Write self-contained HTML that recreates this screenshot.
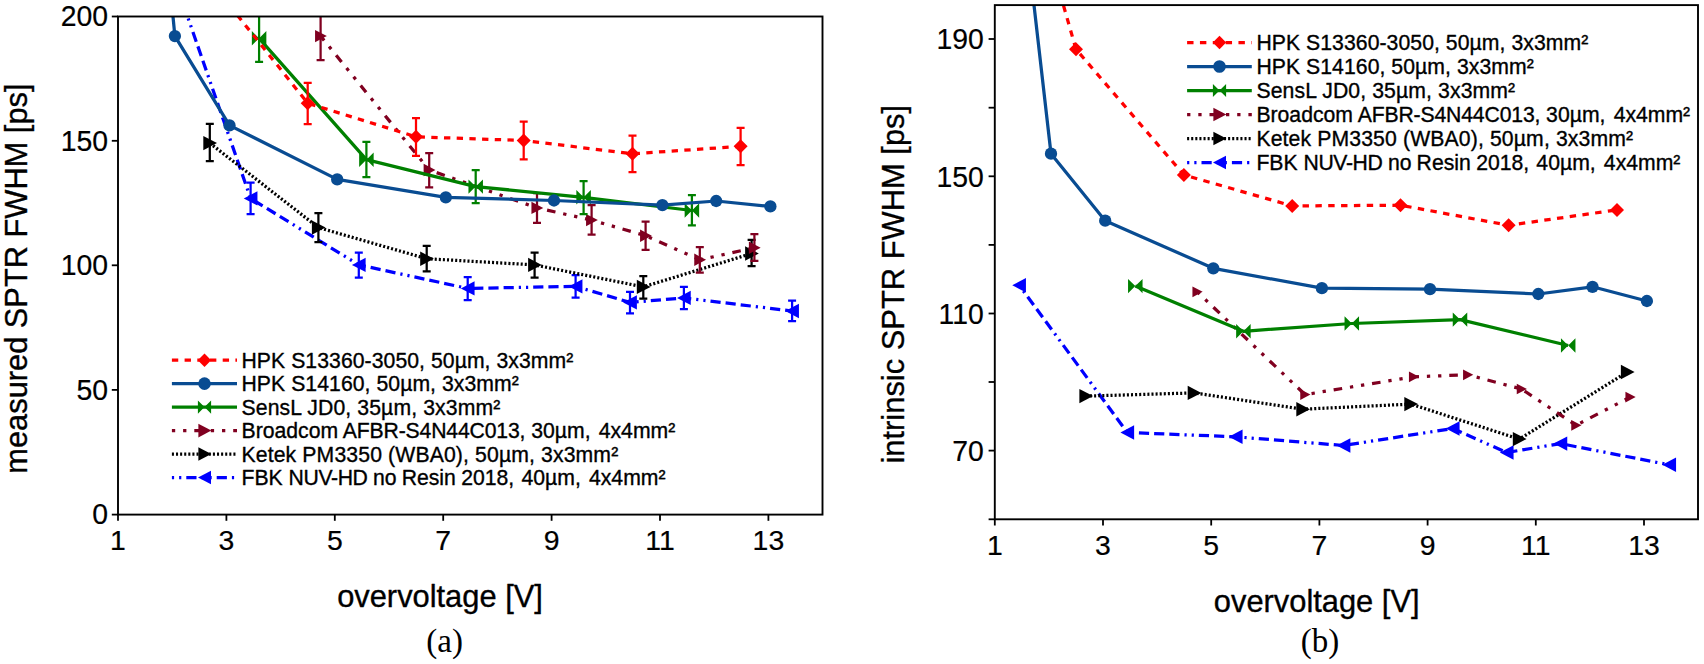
<!DOCTYPE html>
<html lang="en"><head><meta charset="utf-8"><title>SPTR FWHM vs overvoltage</title>
<style>html,body{margin:0;padding:0;background:#fff}svg{display:block}</style></head>
<body>
<svg width="1704" height="664" viewBox="0 0 1704 664">
<rect width="1704" height="664" fill="#fff"/>
<clipPath id="ca"><rect x="118" y="16.5" width="704.5" height="498.1"/></clipPath>
<g clip-path="url(#ca)"><path d="M250.6 182.6V214.1" stroke="#0000ff" stroke-width="2.25" fill="none"/><path d="M358.8 252.5V277.5" stroke="#0000ff" stroke-width="2.25" fill="none"/><path d="M467.7 277.2V300.1" stroke="#0000ff" stroke-width="2.25" fill="none"/><path d="M575.6 275V297.7" stroke="#0000ff" stroke-width="2.25" fill="none"/><path d="M630 291.8V313.3" stroke="#0000ff" stroke-width="2.25" fill="none"/><path d="M683.9 286.9V309" stroke="#0000ff" stroke-width="2.25" fill="none"/><path d="M792.1 300.6V321.1" stroke="#0000ff" stroke-width="2.25" fill="none"/><path d="M142 -114.8L250.6 198.4L358.8 264.9L467.7 288.4L575.6 286.4L630 302.4L683.9 297.9L792.1 311" stroke="#0000ff" stroke-width="3.25" fill="none" stroke-linejoin="round" stroke-dasharray="2.2 5 2.2 5 10.2 5 10.2 5 10.2 5" stroke-dashoffset="39"/></g>
<path d="M257.45 191.21L243.75 198.4L257.45 205.59Z" fill="#0000ff"/>
<path d="M365.65 257.71L351.95 264.9L365.65 272.09Z" fill="#0000ff"/>
<path d="M474.55 281.21L460.85 288.4L474.55 295.59Z" fill="#0000ff"/>
<path d="M582.45 279.21L568.75 286.4L582.45 293.59Z" fill="#0000ff"/>
<path d="M636.85 295.21L623.15 302.4L636.85 309.59Z" fill="#0000ff"/>
<path d="M690.75 290.71L677.05 297.9L690.75 305.09Z" fill="#0000ff"/>
<path d="M798.95 303.81L785.25 311L798.95 318.19Z" fill="#0000ff"/>
<g clip-path="url(#ca)"><path d="M246.6 182.6H254.6M246.6 214.1H254.6" stroke="#0000ff" stroke-width="2.25" fill="none"/><path d="M354.8 252.5H362.8M354.8 277.5H362.8" stroke="#0000ff" stroke-width="2.25" fill="none"/><path d="M463.7 277.2H471.7M463.7 300.1H471.7" stroke="#0000ff" stroke-width="2.25" fill="none"/><path d="M571.6 275H579.6M571.6 297.7H579.6" stroke="#0000ff" stroke-width="2.25" fill="none"/><path d="M626 291.8H634M626 313.3H634" stroke="#0000ff" stroke-width="2.25" fill="none"/><path d="M679.9 286.9H687.9M679.9 309H687.9" stroke="#0000ff" stroke-width="2.25" fill="none"/><path d="M788.1 300.6H796.1M788.1 321.1H796.1" stroke="#0000ff" stroke-width="2.25" fill="none"/></g>
<g clip-path="url(#ca)"><path d="M209.8 123.9V161.2" stroke="#000000" stroke-width="2.25" fill="none"/><path d="M318.4 213V242.1" stroke="#000000" stroke-width="2.25" fill="none"/><path d="M426.7 245.9V271.3" stroke="#000000" stroke-width="2.25" fill="none"/><path d="M534.6 252.5V277.5" stroke="#000000" stroke-width="2.25" fill="none"/><path d="M643.3 276V298.7" stroke="#000000" stroke-width="2.25" fill="none"/><path d="M751.6 239.8V266.1" stroke="#000000" stroke-width="2.25" fill="none"/><path d="M209.8 143.1L318.4 227.6L426.7 258.7L534.6 264.9L643.3 286.9L751.6 253.5" stroke="#000000" stroke-width="3.25" fill="none" stroke-linejoin="round" stroke-dasharray="2.05 2.05" stroke-dashoffset="0"/></g>
<path d="M203.3 135.91L217 143.1L203.3 150.29Z" fill="#000000"/>
<path d="M311.9 220.41L325.6 227.6L311.9 234.79Z" fill="#000000"/>
<path d="M420.2 251.51L433.9 258.7L420.2 265.89Z" fill="#000000"/>
<path d="M528.1 257.71L541.8 264.9L528.1 272.09Z" fill="#000000"/>
<path d="M636.8 279.71L650.5 286.9L636.8 294.09Z" fill="#000000"/>
<path d="M745.1 246.31L758.8 253.5L745.1 260.69Z" fill="#000000"/>
<g clip-path="url(#ca)"><path d="M205.8 123.9H213.8M205.8 161.2H213.8" stroke="#000000" stroke-width="2.25" fill="none"/><path d="M314.4 213H322.4M314.4 242.1H322.4" stroke="#000000" stroke-width="2.25" fill="none"/><path d="M422.7 245.9H430.7M422.7 271.3H430.7" stroke="#000000" stroke-width="2.25" fill="none"/><path d="M530.6 252.5H538.6M530.6 277.5H538.6" stroke="#000000" stroke-width="2.25" fill="none"/><path d="M639.3 276H647.3M639.3 298.7H647.3" stroke="#000000" stroke-width="2.25" fill="none"/><path d="M747.6 239.8H755.6M747.6 266.1H755.6" stroke="#000000" stroke-width="2.25" fill="none"/></g>
<g clip-path="url(#ca)"><path d="M320.6 12V60.2" stroke="#800020" stroke-width="2.25" fill="none"/><path d="M429.2 153.1V187.3" stroke="#800020" stroke-width="2.25" fill="none"/><path d="M537 193V222.9" stroke="#800020" stroke-width="2.25" fill="none"/><path d="M591.6 205V234.6" stroke="#800020" stroke-width="2.25" fill="none"/><path d="M645.6 221.7V249.8" stroke="#800020" stroke-width="2.25" fill="none"/><path d="M699.8 247.2V272.5" stroke="#800020" stroke-width="2.25" fill="none"/><path d="M754.4 234.1V260.9" stroke="#800020" stroke-width="2.25" fill="none"/><path d="M320.6 36.1L429.2 170L537 207.9L591.6 220.1L645.6 235.7L699.8 259.8L754.4 247.7" stroke="#800020" stroke-width="3.25" fill="none" stroke-linejoin="round" stroke-dasharray="3.3 7.9 3.3 7.9 8.6 7.9" stroke-dashoffset="-2.3"/></g>
<path d="M315.05 29.91L326.85 36.1L315.05 42.3Z" fill="#800020"/>
<path d="M423.65 163.81L435.45 170L423.65 176.19Z" fill="#800020"/>
<path d="M531.45 201.71L543.25 207.9L531.45 214.09Z" fill="#800020"/>
<path d="M586.05 213.91L597.85 220.1L586.05 226.29Z" fill="#800020"/>
<path d="M640.05 229.5L651.85 235.7L640.05 241.89Z" fill="#800020"/>
<path d="M694.25 253.61L706.05 259.8L694.25 266Z" fill="#800020"/>
<path d="M748.85 241.5L760.65 247.7L748.85 253.89Z" fill="#800020"/>
<g clip-path="url(#ca)"><path d="M316.6 12H324.6M316.6 60.2H324.6" stroke="#800020" stroke-width="2.25" fill="none"/><path d="M425.2 153.1H433.2M425.2 187.3H433.2" stroke="#800020" stroke-width="2.25" fill="none"/><path d="M533 193H541M533 222.9H541" stroke="#800020" stroke-width="2.25" fill="none"/><path d="M587.6 205H595.6M587.6 234.6H595.6" stroke="#800020" stroke-width="2.25" fill="none"/><path d="M641.6 221.7H649.6M641.6 249.8H649.6" stroke="#800020" stroke-width="2.25" fill="none"/><path d="M695.8 247.2H703.8M695.8 272.5H703.8" stroke="#800020" stroke-width="2.25" fill="none"/><path d="M750.4 234.1H758.4M750.4 260.9H758.4" stroke="#800020" stroke-width="2.25" fill="none"/></g>
<g clip-path="url(#ca)"><path d="M259.1 15.4V61.8" stroke="#008000" stroke-width="2.25" fill="none"/><path d="M366.4 141.8V177.2" stroke="#008000" stroke-width="2.25" fill="none"/><path d="M475.7 170V203" stroke="#008000" stroke-width="2.25" fill="none"/><path d="M583.6 181V214" stroke="#008000" stroke-width="2.25" fill="none"/><path d="M691.9 195V225.4" stroke="#008000" stroke-width="2.25" fill="none"/><path d="M259.1 38.3L366.4 159.7L475.7 186.6L583.6 197.3L691.9 210.5" stroke="#008000" stroke-width="3.25" fill="none" stroke-linejoin="round"/></g>
<path d="M251.85 31.12L259.1 38.3L251.85 45.48ZM266.35 31.12L259.1 38.3L266.35 45.48Z" fill="#008000"/>
<path d="M359.15 152.52L366.4 159.7L359.15 166.88ZM373.65 152.52L366.4 159.7L373.65 166.88Z" fill="#008000"/>
<path d="M468.45 179.42L475.7 186.6L468.45 193.78ZM482.95 179.42L475.7 186.6L482.95 193.78Z" fill="#008000"/>
<path d="M576.35 190.12L583.6 197.3L576.35 204.48ZM590.85 190.12L583.6 197.3L590.85 204.48Z" fill="#008000"/>
<path d="M684.65 203.32L691.9 210.5L684.65 217.68ZM699.15 203.32L691.9 210.5L699.15 217.68Z" fill="#008000"/>
<g clip-path="url(#ca)"><path d="M255.1 15.4H263.1M255.1 61.8H263.1" stroke="#008000" stroke-width="2.25" fill="none"/><path d="M362.4 141.8H370.4M362.4 177.2H370.4" stroke="#008000" stroke-width="2.25" fill="none"/><path d="M471.7 170H479.7M471.7 203H479.7" stroke="#008000" stroke-width="2.25" fill="none"/><path d="M579.6 181H587.6M579.6 214H587.6" stroke="#008000" stroke-width="2.25" fill="none"/><path d="M687.9 195H695.9M687.9 225.4H695.9" stroke="#008000" stroke-width="2.25" fill="none"/></g>
<g clip-path="url(#ca)"><path d="M170 -14L174.9 36.1L229.5 125.4L337.2 179.4L445.8 197.3L554 200.5L662.4 205.1L716.2 201L770.4 206.4" stroke="#094c92" stroke-width="3.25" fill="none" stroke-linejoin="round"/></g>
<circle cx="174.9" cy="36.1" r="6.15" fill="#094c92"/>
<circle cx="229.5" cy="125.4" r="6.15" fill="#094c92"/>
<circle cx="337.2" cy="179.4" r="6.15" fill="#094c92"/>
<circle cx="445.8" cy="197.3" r="6.15" fill="#094c92"/>
<circle cx="554" cy="200.5" r="6.15" fill="#094c92"/>
<circle cx="662.4" cy="205.1" r="6.15" fill="#094c92"/>
<circle cx="716.2" cy="201" r="6.15" fill="#094c92"/>
<circle cx="770.4" cy="206.4" r="6.15" fill="#094c92"/>
<g clip-path="url(#ca)"><path d="M307.7 82.8V124" stroke="#ff0000" stroke-width="2.25" fill="none"/><path d="M416 118.2V155.9" stroke="#ff0000" stroke-width="2.25" fill="none"/><path d="M523.7 121.6V159.3" stroke="#ff0000" stroke-width="2.25" fill="none"/><path d="M632.5 135.7V172.2" stroke="#ff0000" stroke-width="2.25" fill="none"/><path d="M740.6 127.9V165" stroke="#ff0000" stroke-width="2.25" fill="none"/><path d="M199 -32.8L307.7 103.2L416 136.8L523.7 140.5L632.5 153.8L740.6 146.3" stroke="#ff0000" stroke-width="3.25" fill="none" stroke-linejoin="round" stroke-dasharray="6.35 6.35" stroke-dashoffset="2"/></g>
<path d="M300.7 103.2L307.7 96.2L314.7 103.2L307.7 110.2Z" fill="#ff0000"/>
<path d="M409 136.8L416 129.8L423 136.8L416 143.8Z" fill="#ff0000"/>
<path d="M516.7 140.5L523.7 133.5L530.7 140.5L523.7 147.5Z" fill="#ff0000"/>
<path d="M625.5 153.8L632.5 146.8L639.5 153.8L632.5 160.8Z" fill="#ff0000"/>
<path d="M733.6 146.3L740.6 139.3L747.6 146.3L740.6 153.3Z" fill="#ff0000"/>
<g clip-path="url(#ca)"><path d="M303.7 82.8H311.7M303.7 124H311.7" stroke="#ff0000" stroke-width="2.25" fill="none"/><path d="M412 118.2H420M412 155.9H420" stroke="#ff0000" stroke-width="2.25" fill="none"/><path d="M519.7 121.6H527.7M519.7 159.3H527.7" stroke="#ff0000" stroke-width="2.25" fill="none"/><path d="M628.5 135.7H636.5M628.5 172.2H636.5" stroke="#ff0000" stroke-width="2.25" fill="none"/><path d="M736.6 127.9H744.6M736.6 165H744.6" stroke="#ff0000" stroke-width="2.25" fill="none"/></g>
<rect x="118" y="16.5" width="704.5" height="498.1" fill="none" stroke="#000" stroke-width="1.9"/>
<path d="M118 514.6v6.2" stroke="#000" stroke-width="1.8"/>
<text x="118" y="550.4" text-anchor="middle" font-family="Liberation Sans, Arial, sans-serif" stroke="#000" stroke-width="0.2" stroke-linejoin="round" font-size="28.4">1</text>
<path d="M226.4 514.6v6.2" stroke="#000" stroke-width="1.8"/>
<text x="226.4" y="550.4" text-anchor="middle" font-family="Liberation Sans, Arial, sans-serif" stroke="#000" stroke-width="0.2" stroke-linejoin="round" font-size="28.4">3</text>
<path d="M334.8 514.6v6.2" stroke="#000" stroke-width="1.8"/>
<text x="334.8" y="550.4" text-anchor="middle" font-family="Liberation Sans, Arial, sans-serif" stroke="#000" stroke-width="0.2" stroke-linejoin="round" font-size="28.4">5</text>
<path d="M443.2 514.6v6.2" stroke="#000" stroke-width="1.8"/>
<text x="443.2" y="550.4" text-anchor="middle" font-family="Liberation Sans, Arial, sans-serif" stroke="#000" stroke-width="0.2" stroke-linejoin="round" font-size="28.4">7</text>
<path d="M551.6 514.6v6.2" stroke="#000" stroke-width="1.8"/>
<text x="551.6" y="550.4" text-anchor="middle" font-family="Liberation Sans, Arial, sans-serif" stroke="#000" stroke-width="0.2" stroke-linejoin="round" font-size="28.4">9</text>
<path d="M660 514.6v6.2" stroke="#000" stroke-width="1.8"/>
<text x="660" y="550.4" text-anchor="middle" font-family="Liberation Sans, Arial, sans-serif" stroke="#000" stroke-width="0.2" stroke-linejoin="round" font-size="28.4">11</text>
<path d="M768.4 514.6v6.2" stroke="#000" stroke-width="1.8"/>
<text x="768.4" y="550.4" text-anchor="middle" font-family="Liberation Sans, Arial, sans-serif" stroke="#000" stroke-width="0.2" stroke-linejoin="round" font-size="28.4">13</text>
<path d="M118 514.6h-6.2" stroke="#000" stroke-width="1.8"/>
<text transform="translate(108 524.45) scale(1 1.025)" text-anchor="end" font-family="Liberation Sans, Arial, sans-serif" stroke="#000" stroke-width="0.2" stroke-linejoin="round" font-size="28.4">0</text>
<path d="M118 389.9h-6.2" stroke="#000" stroke-width="1.8"/>
<text transform="translate(108 399.75) scale(1 1.025)" text-anchor="end" font-family="Liberation Sans, Arial, sans-serif" stroke="#000" stroke-width="0.2" stroke-linejoin="round" font-size="28.4">50</text>
<path d="M118 265.3h-6.2" stroke="#000" stroke-width="1.8"/>
<text transform="translate(108 275.15) scale(1 1.025)" text-anchor="end" font-family="Liberation Sans, Arial, sans-serif" stroke="#000" stroke-width="0.2" stroke-linejoin="round" font-size="28.4">100</text>
<path d="M118 140.8h-6.2" stroke="#000" stroke-width="1.8"/>
<text transform="translate(108 150.65) scale(1 1.025)" text-anchor="end" font-family="Liberation Sans, Arial, sans-serif" stroke="#000" stroke-width="0.2" stroke-linejoin="round" font-size="28.4">150</text>
<path d="M118 16.5h-6.2" stroke="#000" stroke-width="1.8"/>
<text transform="translate(108 26.35) scale(1 1.025)" text-anchor="end" font-family="Liberation Sans, Arial, sans-serif" stroke="#000" stroke-width="0.2" stroke-linejoin="round" font-size="28.4">200</text>
<path d="M171.9 360.2L237 360.2" stroke="#ff0000" stroke-width="3.25" fill="none" stroke-linejoin="round" stroke-dasharray="6.35 6.35" stroke-dashoffset="0"/>
<path d="M197.8 360.2L204.5 353.5L211.2 360.2L204.5 366.9Z" fill="#ff0000"/>
<text x="241.5" y="367.9" font-family="Liberation Sans, Arial, sans-serif" stroke="#000" stroke-width="0.35" stroke-linejoin="round" font-size="21.2" textLength="331.8" lengthAdjust="spacing">HPK S13360-3050, 50µm, 3x3mm²</text>
<path d="M171.9 383.66L237 383.66" stroke="#094c92" stroke-width="3.25" fill="none" stroke-linejoin="round"/>
<circle cx="204.5" cy="383.66" r="6.3" fill="#094c92"/>
<text x="241.5" y="391.36" font-family="Liberation Sans, Arial, sans-serif" stroke="#000" stroke-width="0.35" stroke-linejoin="round" font-size="21.2" textLength="277.3" lengthAdjust="spacing">HPK S14160, 50µm, 3x3mm²</text>
<path d="M171.9 407.12L237 407.12" stroke="#008000" stroke-width="3.25" fill="none" stroke-linejoin="round"/>
<path d="M197.9 400.59L204.5 407.12L197.9 413.65ZM211.1 400.59L204.5 407.12L211.1 413.65Z" fill="#008000"/>
<text x="241.5" y="414.82" font-family="Liberation Sans, Arial, sans-serif" stroke="#000" stroke-width="0.35" stroke-linejoin="round" font-size="21.2" textLength="258.7" lengthAdjust="spacing">SensL JD0, 35µm, 3x3mm²</text>
<path d="M171.9 430.58L237 430.58" stroke="#800020" stroke-width="3.25" fill="none" stroke-linejoin="round" stroke-dasharray="3.3 7.9 3.3 7.9 8.6 7.9" stroke-dashoffset="0"/>
<path d="M198.35 423.75L211.35 430.58L198.35 437.4Z" fill="#800020"/>
<text x="241.5" y="438.28" font-family="Liberation Sans, Arial, sans-serif" stroke="#000" stroke-width="0.35" stroke-linejoin="round" font-size="21.2">Broadcom <tspan dx="-1.1" letter-spacing="-0.16">AFBR-S4N44C013,</tspan> 30µm, <tspan dx="2.3">4x4mm²</tspan></text>
<path d="M171.9 454.04L237 454.04" stroke="#000000" stroke-width="3.25" fill="none" stroke-linejoin="round" stroke-dasharray="2.05 2.05" stroke-dashoffset="0"/>
<path d="M198.35 447.21L211.35 454.04L198.35 460.86Z" fill="#000000"/>
<text x="241.5" y="461.74" font-family="Liberation Sans, Arial, sans-serif" stroke="#000" stroke-width="0.35" stroke-linejoin="round" font-size="21.2" textLength="376.7" lengthAdjust="spacing">Ketek PM3350 (WBA0), 50µm, 3x3mm²</text>
<path d="M171.9 477.5L237 477.5" stroke="#0000ff" stroke-width="3.25" fill="none" stroke-linejoin="round" stroke-dasharray="2.2 5 2.2 5 10.2 5 10.2 5 10.2 5" stroke-dashoffset="0"/>
<path d="M211 470.68L198 477.5L211 484.32Z" fill="#0000ff"/>
<text x="241.5" y="485.2" font-family="Liberation Sans, Arial, sans-serif" stroke="#000" stroke-width="0.35" stroke-linejoin="round" font-size="21.2">FBK <tspan letter-spacing="-0.39">NUV-HD</tspan> <tspan dx="-0.36">no</tspan> <tspan dx="-0.8">Resin</tspan> <tspan dx="-0.5">2018,</tspan> <tspan dx="1.3">40µm,</tspan> <tspan dx="2.3">4x4mm²</tspan></text>
<text transform="translate(27.2 278.6) rotate(-90)" text-anchor="middle" font-family="Liberation Sans, Arial, sans-serif" stroke="#000" stroke-width="0.35" stroke-linejoin="round" font-size="30.8">measured SPTR FWHM [ps]</text>
<text x="440" y="606.8" text-anchor="middle" font-family="Liberation Sans, Arial, sans-serif" stroke="#000" stroke-width="0.35" stroke-linejoin="round" font-size="30.85">overvoltage [V]</text>
<text x="444.6" y="652.3" text-anchor="middle" font-family="Liberation Serif, Times New Roman, serif" font-size="33">(a)</text>
<clipPath id="cb"><rect x="994.8" y="5.1" width="703.2" height="514.2"/></clipPath>
<g clip-path="url(#cb)"><path d="M1019.1 285.2L1127.3 432.5L1235.7 436.8L1343.5 445.5L1452.7 428.5L1506.7 452.5L1560.4 443.6L1669.2 464.8" stroke="#0000ff" stroke-width="3.25" fill="none" stroke-linejoin="round" stroke-dasharray="2.2 5 2.2 5 10.2 5 10.2 5 10.2 5" stroke-dashoffset="0"/></g>
<path d="M1025.95 278.01L1012.25 285.2L1025.95 292.39Z" fill="#0000ff"/>
<path d="M1134.15 425.31L1120.45 432.5L1134.15 439.69Z" fill="#0000ff"/>
<path d="M1242.55 429.61L1228.85 436.8L1242.55 443.99Z" fill="#0000ff"/>
<path d="M1350.35 438.31L1336.65 445.5L1350.35 452.69Z" fill="#0000ff"/>
<path d="M1459.55 421.31L1445.85 428.5L1459.55 435.69Z" fill="#0000ff"/>
<path d="M1513.55 445.31L1499.85 452.5L1513.55 459.69Z" fill="#0000ff"/>
<path d="M1567.25 436.41L1553.55 443.6L1567.25 450.79Z" fill="#0000ff"/>
<path d="M1676.05 457.61L1662.35 464.8L1676.05 471.99Z" fill="#0000ff"/>
<g clip-path="url(#cb)"><path d="M1085.9 396.1L1194.2 392.9L1302.8 409.2L1410.8 404.1L1519.3 439.1L1627.4 372" stroke="#000000" stroke-width="3.25" fill="none" stroke-linejoin="round" stroke-dasharray="2.05 2.05" stroke-dashoffset="0"/></g>
<path d="M1079.4 388.91L1093.1 396.1L1079.4 403.29Z" fill="#000000"/>
<path d="M1187.7 385.71L1201.4 392.9L1187.7 400.09Z" fill="#000000"/>
<path d="M1296.3 402.01L1310 409.2L1296.3 416.39Z" fill="#000000"/>
<path d="M1404.3 396.91L1418 404.1L1404.3 411.29Z" fill="#000000"/>
<path d="M1512.8 431.91L1526.5 439.1L1512.8 446.29Z" fill="#000000"/>
<path d="M1620.9 364.81L1634.6 372L1620.9 379.19Z" fill="#000000"/>
<g clip-path="url(#cb)"><path d="M1197.2 291.8L1305 394.6L1413.7 376.8L1467.8 374.8L1521.5 389L1576 425.3L1630.2 397.1" stroke="#800020" stroke-width="3.25" fill="none" stroke-linejoin="round" stroke-dasharray="3.3 7.9 3.3 7.9 8.6 7.9" stroke-dashoffset="0"/></g>
<path d="M1192.45 286.44L1202.65 291.8L1192.45 297.16Z" fill="#800020"/>
<path d="M1300.25 389.25L1310.45 394.6L1300.25 399.96Z" fill="#800020"/>
<path d="M1408.95 371.44L1419.15 376.8L1408.95 382.16Z" fill="#800020"/>
<path d="M1463.05 369.44L1473.25 374.8L1463.05 380.16Z" fill="#800020"/>
<path d="M1516.75 383.64L1526.95 389L1516.75 394.36Z" fill="#800020"/>
<path d="M1571.25 419.94L1581.45 425.3L1571.25 430.66Z" fill="#800020"/>
<path d="M1625.45 391.75L1635.65 397.1L1625.45 402.46Z" fill="#800020"/>
<g clip-path="url(#cb)"><path d="M1135.3 286.1L1243.4 331.3L1351.8 323.5L1460 319.6L1568.2 345.5" stroke="#008000" stroke-width="3.25" fill="none" stroke-linejoin="round"/></g>
<path d="M1128.05 278.92L1135.3 286.1L1128.05 293.28ZM1142.55 278.92L1135.3 286.1L1142.55 293.28Z" fill="#008000"/>
<path d="M1236.15 324.12L1243.4 331.3L1236.15 338.48ZM1250.65 324.12L1243.4 331.3L1250.65 338.48Z" fill="#008000"/>
<path d="M1344.55 316.32L1351.8 323.5L1344.55 330.68ZM1359.05 316.32L1351.8 323.5L1359.05 330.68Z" fill="#008000"/>
<path d="M1452.75 312.42L1460 319.6L1452.75 326.78ZM1467.25 312.42L1460 319.6L1467.25 326.78Z" fill="#008000"/>
<path d="M1560.95 338.32L1568.2 345.5L1560.95 352.68ZM1575.45 338.32L1568.2 345.5L1575.45 352.68Z" fill="#008000"/>
<g clip-path="url(#cb)"><path d="M1024.7 -76L1051 153.7L1105.2 220.7L1213.3 268.3L1321.9 288.2L1430 289.2L1538.3 294L1592.5 286.8L1646.9 301" stroke="#094c92" stroke-width="3.25" fill="none" stroke-linejoin="round"/></g>
<circle cx="1051" cy="153.7" r="6.15" fill="#094c92"/>
<circle cx="1105.2" cy="220.7" r="6.15" fill="#094c92"/>
<circle cx="1213.3" cy="268.3" r="6.15" fill="#094c92"/>
<circle cx="1321.9" cy="288.2" r="6.15" fill="#094c92"/>
<circle cx="1430" cy="289.2" r="6.15" fill="#094c92"/>
<circle cx="1538.3" cy="294" r="6.15" fill="#094c92"/>
<circle cx="1592.5" cy="286.8" r="6.15" fill="#094c92"/>
<circle cx="1646.9" cy="301" r="6.15" fill="#094c92"/>
<g clip-path="url(#cb)"><path d="M1042.4 -68.3L1076 49.3L1183.9 174.9L1292.2 205.9L1400.5 205.2L1508.6 225.3L1617 209.9" stroke="#ff0000" stroke-width="3.25" fill="none" stroke-linejoin="round" stroke-dasharray="6.42 6.42" stroke-dashoffset="0"/></g>
<path d="M1069 49.3L1076 42.3L1083 49.3L1076 56.3Z" fill="#ff0000"/>
<path d="M1176.9 174.9L1183.9 167.9L1190.9 174.9L1183.9 181.9Z" fill="#ff0000"/>
<path d="M1285.2 205.9L1292.2 198.9L1299.2 205.9L1292.2 212.9Z" fill="#ff0000"/>
<path d="M1393.5 205.2L1400.5 198.2L1407.5 205.2L1400.5 212.2Z" fill="#ff0000"/>
<path d="M1501.6 225.3L1508.6 218.3L1515.6 225.3L1508.6 232.3Z" fill="#ff0000"/>
<path d="M1610 209.9L1617 202.9L1624 209.9L1617 216.9Z" fill="#ff0000"/>
<rect x="994.8" y="5.1" width="703.2" height="514.2" fill="none" stroke="#000" stroke-width="1.9"/>
<path d="M994.8 519.3v6.2" stroke="#000" stroke-width="1.8"/>
<text x="994.8" y="555.1" text-anchor="middle" font-family="Liberation Sans, Arial, sans-serif" stroke="#000" stroke-width="0.2" stroke-linejoin="round" font-size="28.4">1</text>
<path d="M1103 519.3v6.2" stroke="#000" stroke-width="1.8"/>
<text x="1103" y="555.1" text-anchor="middle" font-family="Liberation Sans, Arial, sans-serif" stroke="#000" stroke-width="0.2" stroke-linejoin="round" font-size="28.4">3</text>
<path d="M1211.2 519.3v6.2" stroke="#000" stroke-width="1.8"/>
<text x="1211.2" y="555.1" text-anchor="middle" font-family="Liberation Sans, Arial, sans-serif" stroke="#000" stroke-width="0.2" stroke-linejoin="round" font-size="28.4">5</text>
<path d="M1319.4 519.3v6.2" stroke="#000" stroke-width="1.8"/>
<text x="1319.4" y="555.1" text-anchor="middle" font-family="Liberation Sans, Arial, sans-serif" stroke="#000" stroke-width="0.2" stroke-linejoin="round" font-size="28.4">7</text>
<path d="M1427.6 519.3v6.2" stroke="#000" stroke-width="1.8"/>
<text x="1427.6" y="555.1" text-anchor="middle" font-family="Liberation Sans, Arial, sans-serif" stroke="#000" stroke-width="0.2" stroke-linejoin="round" font-size="28.4">9</text>
<path d="M1535.8 519.3v6.2" stroke="#000" stroke-width="1.8"/>
<text x="1535.8" y="555.1" text-anchor="middle" font-family="Liberation Sans, Arial, sans-serif" stroke="#000" stroke-width="0.2" stroke-linejoin="round" font-size="28.4">11</text>
<path d="M1644 519.3v6.2" stroke="#000" stroke-width="1.8"/>
<text x="1644" y="555.1" text-anchor="middle" font-family="Liberation Sans, Arial, sans-serif" stroke="#000" stroke-width="0.2" stroke-linejoin="round" font-size="28.4">13</text>
<path d="M994.8 450.6h-6.2" stroke="#000" stroke-width="1.8"/>
<text transform="translate(983.75 461.05) scale(1 1.025)" text-anchor="end" font-family="Liberation Sans, Arial, sans-serif" stroke="#000" stroke-width="0.2" stroke-linejoin="round" font-size="28.4">70</text>
<path d="M994.8 313.5h-6.2" stroke="#000" stroke-width="1.8"/>
<text transform="translate(983.75 323.95) scale(1 1.025)" text-anchor="end" font-family="Liberation Sans, Arial, sans-serif" stroke="#000" stroke-width="0.2" stroke-linejoin="round" font-size="28.4">110</text>
<path d="M994.8 176.3h-6.2" stroke="#000" stroke-width="1.8"/>
<text transform="translate(983.75 186.75) scale(1 1.025)" text-anchor="end" font-family="Liberation Sans, Arial, sans-serif" stroke="#000" stroke-width="0.2" stroke-linejoin="round" font-size="28.4">150</text>
<path d="M994.8 39h-6.2" stroke="#000" stroke-width="1.8"/>
<text transform="translate(983.75 49.45) scale(1 1.025)" text-anchor="end" font-family="Liberation Sans, Arial, sans-serif" stroke="#000" stroke-width="0.2" stroke-linejoin="round" font-size="28.4">190</text>
<path d="M994.8 519.3h-6.2" stroke="#000" stroke-width="1.8"/>
<path d="M994.8 382h-6.2" stroke="#000" stroke-width="1.8"/>
<path d="M994.8 244.9h-6.2" stroke="#000" stroke-width="1.8"/>
<path d="M994.8 107.7h-6.2" stroke="#000" stroke-width="1.8"/>
<path d="M1187.1 42.5L1251.8 42.5" stroke="#ff0000" stroke-width="3.25" fill="none" stroke-linejoin="round" stroke-dasharray="6.42 6.42" stroke-dashoffset="0"/>
<path d="M1212.8 42.5L1219.5 35.8L1226.2 42.5L1219.5 49.2Z" fill="#ff0000"/>
<text x="1256.4" y="50.2" font-family="Liberation Sans, Arial, sans-serif" stroke="#000" stroke-width="0.35" stroke-linejoin="round" font-size="21.2" textLength="331.8" lengthAdjust="spacing">HPK S13360-3050, 50µm, 3x3mm²</text>
<path d="M1187.1 66.5L1251.8 66.5" stroke="#094c92" stroke-width="3.25" fill="none" stroke-linejoin="round"/>
<circle cx="1219.5" cy="66.5" r="6.3" fill="#094c92"/>
<text x="1256.4" y="74.2" font-family="Liberation Sans, Arial, sans-serif" stroke="#000" stroke-width="0.35" stroke-linejoin="round" font-size="21.2" textLength="277.3" lengthAdjust="spacing">HPK S14160, 50µm, 3x3mm²</text>
<path d="M1187.1 90.5L1251.8 90.5" stroke="#008000" stroke-width="3.25" fill="none" stroke-linejoin="round"/>
<path d="M1212.9 83.97L1219.5 90.5L1212.9 97.03ZM1226.1 83.97L1219.5 90.5L1226.1 97.03Z" fill="#008000"/>
<text x="1256.4" y="98.2" font-family="Liberation Sans, Arial, sans-serif" stroke="#000" stroke-width="0.35" stroke-linejoin="round" font-size="21.2" textLength="258.7" lengthAdjust="spacing">SensL JD0, 35µm, 3x3mm²</text>
<path d="M1187.1 114.5L1251.8 114.5" stroke="#800020" stroke-width="3.25" fill="none" stroke-linejoin="round" stroke-dasharray="3.3 7.9 3.3 7.9 8.6 7.9" stroke-dashoffset="0"/>
<path d="M1213.35 107.67L1226.35 114.5L1213.35 121.33Z" fill="#800020"/>
<text x="1256.4" y="122.2" font-family="Liberation Sans, Arial, sans-serif" stroke="#000" stroke-width="0.35" stroke-linejoin="round" font-size="21.2">Broadcom <tspan dx="-1.1" letter-spacing="-0.16">AFBR-S4N44C013,</tspan> 30µm, <tspan dx="2.3">4x4mm²</tspan></text>
<path d="M1187.1 138.5L1251.8 138.5" stroke="#000000" stroke-width="3.25" fill="none" stroke-linejoin="round" stroke-dasharray="2.05 2.05" stroke-dashoffset="0"/>
<path d="M1213.35 131.68L1226.35 138.5L1213.35 145.32Z" fill="#000000"/>
<text x="1256.4" y="146.2" font-family="Liberation Sans, Arial, sans-serif" stroke="#000" stroke-width="0.35" stroke-linejoin="round" font-size="21.2" textLength="376.7" lengthAdjust="spacing">Ketek PM3350 (WBA0), 50µm, 3x3mm²</text>
<path d="M1187.1 162.5L1251.8 162.5" stroke="#0000ff" stroke-width="3.25" fill="none" stroke-linejoin="round" stroke-dasharray="2.2 5 2.2 5 10.2 5 10.2 5 10.2 5" stroke-dashoffset="0"/>
<path d="M1226 155.68L1213 162.5L1226 169.32Z" fill="#0000ff"/>
<text x="1256.4" y="170.2" font-family="Liberation Sans, Arial, sans-serif" stroke="#000" stroke-width="0.35" stroke-linejoin="round" font-size="21.2">FBK <tspan letter-spacing="-0.39">NUV-HD</tspan> <tspan dx="-0.36">no</tspan> <tspan dx="-0.8">Resin</tspan> <tspan dx="-0.5">2018,</tspan> <tspan dx="1.3">40µm,</tspan> <tspan dx="2.3">4x4mm²</tspan></text>
<text transform="translate(903.7 284.2) rotate(-90)" text-anchor="middle" font-family="Liberation Sans, Arial, sans-serif" stroke="#000" stroke-width="0.35" stroke-linejoin="round" font-size="30.9">intrinsic SPTR FWHM [ps]</text>
<text x="1316.7" y="611.8" text-anchor="middle" font-family="Liberation Sans, Arial, sans-serif" stroke="#000" stroke-width="0.35" stroke-linejoin="round" font-size="30.85">overvoltage [V]</text>
<text x="1320" y="652.3" text-anchor="middle" font-family="Liberation Serif, Times New Roman, serif" font-size="33">(b)</text>
</svg>
</body></html>
